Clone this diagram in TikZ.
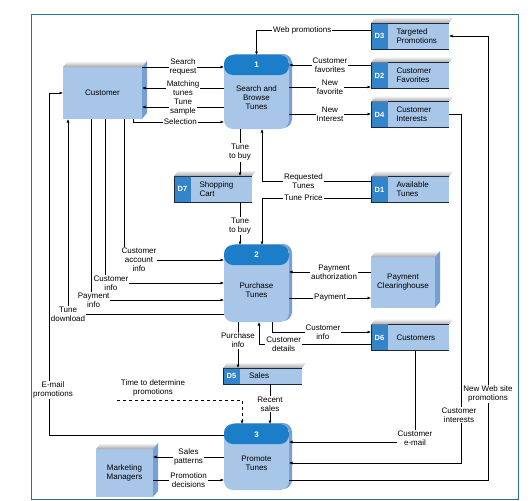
\documentclass[tikz,border=0pt]{standalone}
\usepackage{fontspec}
\setmainfont{Liberation Sans}
\usepackage{tikz}
\usetikzlibrary{arrows.meta,shadows,positioning}

\definecolor{framecol}{RGB}{47,110,150}
\definecolor{bodyblue}{RGB}{168,198,232}
\definecolor{headblue}{RGB}{28,126,200}
\definecolor{idblue}{RGB}{52,132,202}
\definecolor{sideblue}{RGB}{118,160,212}
\definecolor{storenavy}{RGB}{25,40,65}

\tikzset{
    txt/.style={font=\fontsize{8}{9}\selectfont},
    flow/.style={draw=black, line width=0.6pt, -{Latex[length=3.5pt,width=3pt]}},
    lbl/.style={txt, align=center, fill=white, inner sep=1pt},
    process/.style={rounded corners=9pt, fill=bodyblue, minimum width=65pt, inner sep=0pt, outer sep=0pt,
        drop shadow={shadow xshift=3pt, shadow yshift=1pt, fill=sideblue, opacity=1},
        path picture={\fill[headblue] (path picture bounding box.north west) rectangle ([yshift=-20pt]path picture bounding box.north east);}},
    procnum/.style={font=\fontsize{8}{9}\selectfont\bfseries, text=white},
    proctext/.style={txt, align=center},
    entity/.style={txt, align=center, fill=bodyblue, inner sep=0pt, outer sep=0pt},
    storeid/.style={font=\fontsize{7.5}{9}\selectfont\bfseries, text=white, fill=idblue, draw=storenavy, line width=0.7pt,
        minimum width=17pt, minimum height=26pt, inner sep=0pt, outer sep=0pt},
    storebody/.style={txt, align=left, fill=bodyblue, text width=44pt, inner xsep=8pt, inner ysep=0pt,
        minimum width=61pt, minimum height=26pt, outer sep=0pt},
    topface/.style={top color=white, bottom color=black!35},
}

\begin{document}
\begin{tikzpicture}[x=1pt,y=-1pt]
    \useasboundingbox (0,0) rectangle (531,501);
    \draw[framecol, line width=0.8pt] (31,14) rectangle (518,499);

    \node[entity, minimum width=79pt, minimum height=52pt] (cust) at (102.5,93) {Customer};
    \node[entity, minimum width=64pt, minimum height=51pt] (payh) at (403,282.5) {Payment\\Clearinghouse};
    \node[entity, minimum width=57pt, minimum height=48pt] (mkt) at (124.5,473) {Marketing\\Managers};

    \node[process, minimum height=74pt] (p1) at (256.5,92) {};
    \node[procnum] (p1-num) at ([yshift=-10pt]p1.north) {1};
    \node[proctext] (p1-txt) at (256.5,98) {Search and\\Browse\\Tunes};
    \node[process, minimum height=77pt] (p2) at (256.5,283.5) {};
    \node[procnum] (p2-num) at ([yshift=-10pt]p2.north) {2};
    \node[proctext] (p2-txt) at (256.5,290) {Purchase\\Tunes};
    \node[process, minimum height=66pt] (p3) at (256.5,457) {};
    \node[procnum] (p3-num) at ([yshift=-10.5pt]p3.north) {3};
    \node[proctext] (p3-txt) at (256.5,463) {Promote\\Tunes};

    \node[storeid] (d3-id) at (379.5,36) {D3};
    \node[storebody, right=0pt of d3-id] (d3) {Targeted\\Promotions};
    \node[storeid] (d2-id) at (379.5,75.5) {D2};
    \node[storebody, right=0pt of d2-id] (d2) {Customer\\Favorites};
    \node[storeid] (d4-id) at (379.5,114.5) {D4};
    \node[storebody, right=0pt of d4-id] (d4) {Customer\\Interests};
    \node[storeid] (d7-id) at (182.5,189) {D7};
    \node[storebody, right=0pt of d7-id] (d7) {Shopping\\Cart};
    \node[storeid] (d1-id) at (379.5,189.5) {D1};
    \node[storebody, right=0pt of d1-id] (d1) {Available\\Tunes};
    \node[storeid] (d6-id) at (379.5,337.5) {D6};
    \node[storebody, right=0pt of d6-id] (d6) {Customers};
    \node[storeid, minimum height=16pt] (d5-id) at (231.5,376) {D5};
    \node[storebody, minimum height=16pt, minimum width=62pt, right=0pt of d5-id] (d5) {Sales};

    \foreach \n in {cust,payh,mkt}{
        \shade[topface] (\n.north west) -- ++(5,-6) -- ([shift={(5,-6)}]\n.north east) -- (\n.north east) -- cycle;
        \fill[sideblue] (\n.north east) -- ++(5,-6) -- ([shift={(5,-6)}]\n.south east) -- (\n.south east) -- cycle;
    }
    \foreach \s in {d1,d2,d3,d4,d5,d6,d7}{
        \shade[topface] (\s-id.north west) -- ++(5,-6) -- ([shift={(5,-6)}]\s.north east) -- (\s.north east) -- cycle;
        \draw[storenavy, line width=0.7pt] (\s-id.north east) -- (\s.north east) (\s-id.south east) -- (\s.south east);
    }

    \draw[flow] (d3-id.west |- 0,30) -- node[lbl, pos=.6] {Web promotions} (p1.north |- 0,30) -- (p1.north);
    \draw[flow] (cust.east |- 0,67) -- node[lbl] {Search\\request} (p1.west |- 0,67);
    \draw[flow] (p1.west |- 0,88) -- node[lbl] {Matching\\tunes} (cust.east |- 0,88);
    \draw[flow] (p1.west |- 0,107) -- node[lbl] {Tune\\sample} (cust.east |- 0,107);
    \draw[flow] (cust.south -| 133,0) |- node[lbl, pos=.76] {Selection} (p1.west |- 0,122);
    \draw[flow] (d2-id.west |- 0,65) -- node[lbl] {Customer\\favorites} (p1.east |- 0,65);
    \draw[flow] (p1.east |- 0,87) -- node[lbl] {New\\favorite} (d2-id.west |- 0,87);
    \draw[flow] (p1.east |- 0,114) -- node[lbl] {New\\Interest} (d4-id.west |- 0,114);
    \draw[flow] (p1.south -| 240,0) -- node[lbl] {Tune\\to buy} (d7.north -| 240,0);
    \draw[flow] (d1-id.west |- 0,181) -| node[lbl, pos=.31] {Requested\\Tunes} (p1.south -| 262,0);
    \draw[flow] (d1-id.west |- 0,198) -| node[lbl, pos=.31] {Tune Price} (p2.north -| 262,0);
    \draw[flow] (d7.south -| 240,0) -- node[lbl, pos=.55] {Tune\\to buy} (p2.north -| 240,0);
    \draw[flow] (cust.south -| 124,0) |- node[lbl, pos=.575] {Customer\\account\\info} (p2.west |- 0,260);
    \draw[flow] (cust.south -| 105,0) |- node[lbl, pos=.525] {Customer\\info} (p2.west |- 0,283);
    \draw[flow] (cust.south -| 91,0) |- node[lbl, pos=.51] {Payment\\info} (p2.west |- 0,300);
    \draw[flow] (p2.west |- 0,314) -| node[lbl, pos=.5] {Tune\\download} (cust.south -| 68,0);
    \draw[flow] (p3.west |- 0,435) -| node[lbl, pos=.566, xshift=4pt] {E-mail\\promotions} ([xshift=-14pt]cust.west) -- (cust.west);
    \draw[flow] (payh.west |- 0,272) -- node[lbl, pos=.45] {Payment\\authorization} (p2.east |- 0,272);
    \draw[flow] (p2.east |- 0,298) -- node[lbl] {Payment} (payh.west |- 0,298);
    \draw[flow] (p2.south -| 272,0) |- node[lbl, pos=.757] {Customer\\info} (d6-id.west |- 0,332);
    \draw[flow] (d6-id.west |- 0,344) -| node[lbl, pos=.39] {Customer\\details} (p2.south -| 259,0);
    \draw[flow] (p2.south -| 238,0) -- node[lbl, pos=.4] {Purchase\\info} (d5-id.north -| 238,0);
    \draw[flow] (d5.south -| 270,0) -- node[lbl] {Recent\\sales} (p3.north -| 270,0);
    \coordinate (tdp) at (117,400);
    \draw[flow, dashed] (tdp) -| node[txt, align=center, above, pos=.144] {Time to determine\\promotions} (p3.north -| 242,0);
    \draw[flow] (d6.south -| 415,0) |- node[lbl, pos=.478] {Customer\\e-mail} (p3.east |- 0,442);
    \draw[flow] (d4.east) -- ([xshift=12pt]d4.east) |- node[lbl, pos=.431, xshift=-2pt] {Customer\\interests} (p3.east |- 0,463);
    \draw[flow] (p3.east |- 0,480) -| node[lbl, pos=.597] {New Web site\\promotions} ([xshift=39pt]d3.east) -- (d3.east);
    \draw[flow] (p3.west |- 0,457) -- node[lbl] {Sales\\patterns} (mkt.east |- 0,457);
    \draw[flow] (mkt.east |- 0,480) -- node[lbl] {Promotion\\decisions} (p3.west |- 0,480);
\end{tikzpicture}
\end{document}
